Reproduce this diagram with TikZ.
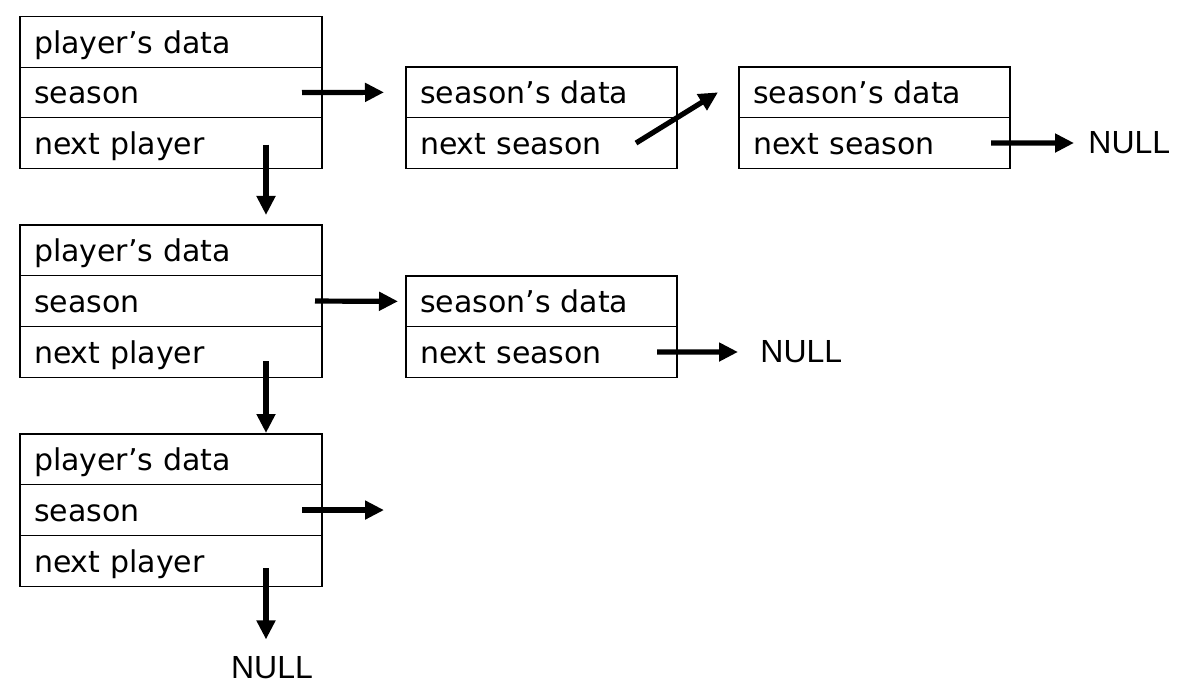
\documentclass[tikz,border=0pt]{standalone}
\usepackage{fontspec}
\setmainfont{DejaVu Sans}
\newfontfamily\nilfont{Liberation Sans}
\usetikzlibrary{positioning,arrows.meta}

\tikzset{
  cell/.style={draw,line width=0.6pt,rectangle,outer sep=0pt,inner xsep=7pt,inner ysep=3pt,
    text height=15.35pt,text depth=4pt,align=left,font=\fontsize{15}{18}\selectfont},
  pcell/.style={cell,text width=137pt},
  scell/.style={cell,text width=121.5pt},
  ptr/.style={line width=2.6pt,-{Triangle[length=9.5pt,width=9pt]}},
  nil/.style={inner sep=0pt,font=\nilfont\fontsize{16}{19}\selectfont}
}

\begin{document}
\begin{tikzpicture}[x=0.5pt,y=-0.5pt]
  \useasboundingbox (0,0) rectangle (1184,690);

  \node[pcell,anchor=north west] (p1data) at (20,16.5) {player’s data};
  \node[pcell,below=0pt of p1data] (p1season) {season};
  \node[pcell,below=0pt of p1season] (p1next) {next player};

  \node[pcell,anchor=north west] (p2data) at (20,225) {player’s data};
  \node[pcell,below=0pt of p2data] (p2season) {season};
  \node[pcell,below=0pt of p2season] (p2next) {next player};

  \node[pcell,anchor=north west] (p3data) at (20,434) {player’s data};
  \node[pcell,below=0pt of p3data] (p3season) {season};
  \node[pcell,below=0pt of p3season] (p3next) {next player};

  \node[scell,anchor=north west] (s11data) at (406,67) {season’s data};
  \node[scell,below=0pt of s11data] (s11next) {next season};
  \node[scell,anchor=north west] (s12data) at (739,67) {season’s data};
  \node[scell,below=0pt of s12data] (s12next) {next season};
  \node[scell,anchor=north west] (s21data) at (406,276) {season’s data};
  \node[scell,below=0pt of s21data] (s21next) {next season};

  \node[nil,anchor=west] (null1) at (1088,143) {NULL};
  \node[nil,anchor=west] (null2) at (760,352) {NULL};
  \node[nil] (null3) at (272,668) {NULL};
  \coordinate (p3end) at ([xshift=31pt]p3season.east);
  \coordinate (d3) at ([xshift=47.5pt,yshift=-3.75pt]p3next.center);

  \draw[ptr] ([xshift=-10pt]p1season.east) -- ([xshift=-11pt]s11data.west);
  \draw[ptr] ([xshift=-3.5pt]p2season.east) -- ([xshift=-4pt]s21data.west);
  \draw[ptr] ([xshift=-10pt]p3season.east) -- (p3end);
  \draw[ptr] ([xshift=47.25pt]s11next.center) -- ([xshift=-10.5pt]s12data.west);
  \draw[ptr] ([xshift=-9.5pt]s12next.east) -- ([xshift=-7pt]null1.west);
  \draw[ptr] ([xshift=-10pt]s21next.east) -- ([xshift=-11pt]null2.west);

  \draw[ptr] ([xshift=47.5pt,yshift=-0.75pt]p1next.center) -- ([xshift=47.5pt,yshift=5pt]p2data.north);
  \draw[ptr] ([xshift=47.5pt,yshift=-4.75pt]p2next.center) -- ([xshift=47.5pt,yshift=0.5pt]p3data.north);
  \draw[ptr] (d3) -- ([yshift=8.5pt]d3 |- null3.north);
\end{tikzpicture}
\end{document}
